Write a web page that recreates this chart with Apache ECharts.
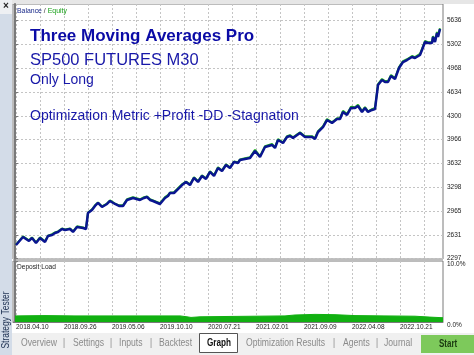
<!DOCTYPE html>
<html><head><meta charset="utf-8">
<script src="https://cdn.jsdelivr.net/npm/echarts@6/dist/echarts.min.js"></script>
<style>html,body{margin:0;padding:0;background:#f0f0f0}#c{width:474px;height:355px}</style>
</head><body><div id="c"></div>
<script>
// ---- data ----
const trades = [1,3,8,14,17,21,25,30,33,37,40,43,47,50,55,58,62,68,71,73,77,80,83,87,92,95,100,104,108,112,115,118,125,129,132,135,138,145,150,153,155,159,163,167,171,175,179,183,187,191,195,199,203,207,211,215,219,223,225,230,235,240,245,250,257,260,263,268,272,275,278,285,290,297,300,303,308,312,317,322,325,328,332,336,340,343,347,350,353,357,360,363,367,370,373,376,380,384,388,392,397,400,405,407,410,413,417,418,420,422,423,425];
const equity = [2489,2461,2601,2545,2587,2517,2587,2531,2615,2629,2657,2671,2713,2699,2713,2671,2741,2727,2713,2938,2980,3036,3078,3022,3064,3106,3064,3036,3036,3120,3134,3148,3120,3148,3162,3120,3106,3064,3148,3176,3218,3218,3274,3330,3373,3330,3429,3373,3457,3415,3513,3457,3569,3527,3611,3569,3653,3639,3681,3695,3709,3808,3723,3864,3892,3850,3962,3920,4004,4018,3990,4060,4004,4004,3976,4074,4144,4242,4200,4256,4256,4355,4313,4411,4411,4439,4355,4411,4355,4383,4397,4733,4804,4776,4776,4860,4818,4972,5056,5084,5126,5112,5154,5225,5337,5323,5323,5407,5337,5463,5407,5519];
const balance = [2495,2470,2610,2555,2595,2525,2595,2540,2620,2640,2665,2680,2720,2705,2720,2680,2750,2735,2720,2945,2990,3045,3085,3030,3070,3115,3070,3045,3045,3130,3145,3160,3130,3160,3170,3130,3115,3075,3160,3190,3225,3228,3285,3340,3380,3340,3440,3385,3465,3425,3522,3468,3580,3535,3620,3580,3660,3650,3690,3705,3720,3825,3735,3875,3905,3860,3975,3930,4015,4030,4000,4070,4015,4015,3990,4085,4155,4255,4210,4268,4268,4370,4325,4430,4420,4455,4368,4422,4365,4395,4410,4745,4818,4790,4788,4875,4830,4985,5068,5095,5140,5125,5170,5240,5350,5335,5335,5420,5350,5478,5420,5530];
const loadTrades = [0,30,60,100,140,165,172,176,185,210,240,270,280,300,320,340,370,400,415,428];
const depositLoad = [1.0,1.05,1.0,1.0,1.0,1.0,0.85,0.75,0.85,0.9,0.95,1.0,1.15,1.25,1.2,1.05,1.0,0.95,0.8,0.7];
const yTickLabels = ['2297','2631','2965','3298','3632','3966','4300','4634','4968','5302','5636'];
const dateLabelTrades = [1,49,97,145,193,241,289,337,385];
const dateLabels = ['2018.04.10','2018.09.26','2019.05.06','2019.10.10','2020.07.21','2021.02.01','2021.09.09','2022.04.08','2022.10.21'];
const loadTickValues = [0,10];
const loadTickLabels = ['0.0%','10.0%'];
const tabs = ['Overview','Settings','Inputs','Backtest','Graph','Optimization Results','Agents','Journal'];

// ---- derived ----
const yTickValues = yTickLabels.map(Number);
const xGridTrades = [];
for (let t = dateLabelTrades[0]; t < 428; t += (dateLabelTrades[1]-dateLabelTrades[0])/2) xGridTrades.push(t);
const eqData = trades.map((t,i)=>[t,equity[i]]);
const balData = trades.map((t,i)=>[t,balance[i]]);
const loadData = loadTrades.map((t,i)=>[t,depositLoad[i]]);

const sans = "'Liberation Sans',Arial,sans-serif";
const gridLine = {show:true,lineStyle:{color:'#c4c4c4',type:[2,2],width:1}};

const chart = echarts.init(document.getElementById('c'),null,{renderer:'canvas'});

const tabPos = [21,73,119,159,207,246,343,384];
const seps = [64,111,151,334,377];
const graphic = [
  {type:'rect',shape:{x:0,y:0,width:474,height:4},style:{fill:'#e6e6e6'},z:0},
  {type:'rect',shape:{x:0,y:0,width:12,height:355},style:{fill:'#d3dce8'},z:0},
  {type:'rect',shape:{x:0,y:0,width:12,height:14},style:{fill:'#eef0f3'},z:0},
  {type:'text',x:6,y:6,style:{text:'×',font:'bold 10px '+sans,fill:'#222',align:'center',verticalAlign:'middle'},z:10},
  {type:'text',x:6,y:320,rotation:Math.PI/2,scaleX:0.85,style:{text:'Strategy Tester',font:'10px '+sans,fill:'#233656',align:'center',verticalAlign:'middle'},z:10},
  {type:'rect',shape:{x:12,y:333,width:462,height:22},style:{fill:'#f0f0f0'},z:0},
  {type:'rect',shape:{x:199.5,y:333.5,width:38,height:19},style:{fill:'#ffffff',stroke:'#555',lineWidth:1},z:1},
  {type:'rect',shape:{x:421,y:335,width:53,height:18},style:{fill:'#7dc95b'},z:1},
  {type:'text',x:439,y:344,scaleX:0.8,style:{text:'Start',font:'bold 10px '+sans,fill:'#1a3a10',verticalAlign:'middle'},z:10},
  {type:'text',x:17,y:11,scaleX:0.92,style:{text:'{b|Balance}{s| / }{e|Equity}',rich:{b:{fill:'#1a2a8a',font:'7.5px '+sans},s:{fill:'#333',font:'7.5px '+sans},e:{fill:'#18a018',font:'7.5px '+sans}},verticalAlign:'middle'},z:10},
  {type:'text',x:30,y:36,style:{text:'Three Moving Averages Pro',font:'bold 17px '+sans,fill:'#0b0ba6',verticalAlign:'middle'},z:10},
  {type:'text',x:30,y:60,style:{text:'SP500 FUTURES M30',font:'16.5px '+sans,fill:'#1818a8',verticalAlign:'middle'},z:10},
  {type:'text',x:30,y:80,style:{text:'Only Long',font:'14px '+sans,fill:'#1818a8',verticalAlign:'middle'},z:10},
  {type:'text',x:30,y:116,style:{text:'Optimization Metric +Profit -DD -Stagnation',font:'14px '+sans,fill:'#1818a8',verticalAlign:'middle'},z:10},
  {type:'text',x:17,y:267,scaleX:0.88,style:{text:'Deposit Load',font:'7.5px '+sans,fill:'#222',verticalAlign:'middle'},z:10}
];
tabs.forEach((t,i)=>{
  const g = t==='Graph';
  graphic.push({type:'text',x:tabPos[i],y:343,scaleX:g?0.78:0.82,style:{text:t,font:(g?'bold ':'')+'10.5px '+sans,fill:g?'#111':'#8a8a8a',verticalAlign:'middle'},z:10});
});
seps.forEach(x=>graphic.push({type:'text',x:x,y:343,style:{text:'|',font:'10px '+sans,fill:'#999',align:'center',verticalAlign:'middle'},z:10}));

chart.setOption({
  backgroundColor:'#ffffff',
  animation:false,
  graphic:graphic,
  grid:[
    {left:13,top:4,width:430,height:255,show:true,borderColor:'#7a7a7a',borderWidth:1,backgroundColor:'#fff'},
    {left:13,top:261,width:430,height:61,show:true,borderColor:'#7a7a7a',borderWidth:1,backgroundColor:'#fff'}
  ],
  xAxis:[
    {gridIndex:0,type:'value',min:-2,max:428,axisLine:{show:false},axisTick:{show:false,customValues:xGridTrades},axisLabel:{show:false,customValues:xGridTrades},splitLine:gridLine},
    {gridIndex:1,type:'value',min:-2,max:428,axisLine:{show:true,lineStyle:{color:'#7a7a7a',width:1}},axisTick:{show:false,customValues:xGridTrades},
     axisLabel:{show:true,customValues:dateLabelTrades,align:'left',margin:2,fontSize:6.5,fontFamily:sans,color:'#222',formatter:v=>dateLabels[dateLabelTrades.indexOf(v)]||''},splitLine:gridLine}
  ],
  yAxis:[
    {gridIndex:0,type:'value',position:'right',min:2292,max:5870,axisLine:{show:true,lineStyle:{color:'#7a7a7a',width:2}},
     axisTick:{show:true,length:3,customValues:yTickValues,lineStyle:{color:'#7a7a7a'}},
     axisLabel:{show:true,customValues:yTickValues,margin:4,fontSize:6.5,fontFamily:sans,color:'#222',formatter:v=>yTickLabels[yTickValues.indexOf(v)]||''},splitLine:gridLine},
    {gridIndex:1,type:'value',position:'right',min:0,max:10,axisLine:{show:true,lineStyle:{color:'#7a7a7a',width:2}},
     axisTick:{show:true,length:3,customValues:loadTickValues,lineStyle:{color:'#7a7a7a'}},
     axisLabel:{show:true,customValues:loadTickValues,margin:4,fontSize:6.5,fontFamily:sans,color:'#222',verticalAlign:'top',formatter:v=>loadTickLabels[loadTickValues.indexOf(v)]||''},splitLine:{show:false}}
  ],
  series:[
    {type:'line',xAxisIndex:0,yAxisIndex:0,data:balData,showSymbol:false,lineStyle:{color:'#1fb31f',width:2},z:3},
    {type:'line',xAxisIndex:0,yAxisIndex:0,data:eqData,showSymbol:false,lineStyle:{color:'#0a1590',width:2.5},z:4},
    {type:'line',xAxisIndex:1,yAxisIndex:1,data:loadData,showSymbol:false,lineStyle:{color:'#11b011',width:1},areaStyle:{color:'#11b011',opacity:1},z:3}
  ]
});
</script></body></html>
